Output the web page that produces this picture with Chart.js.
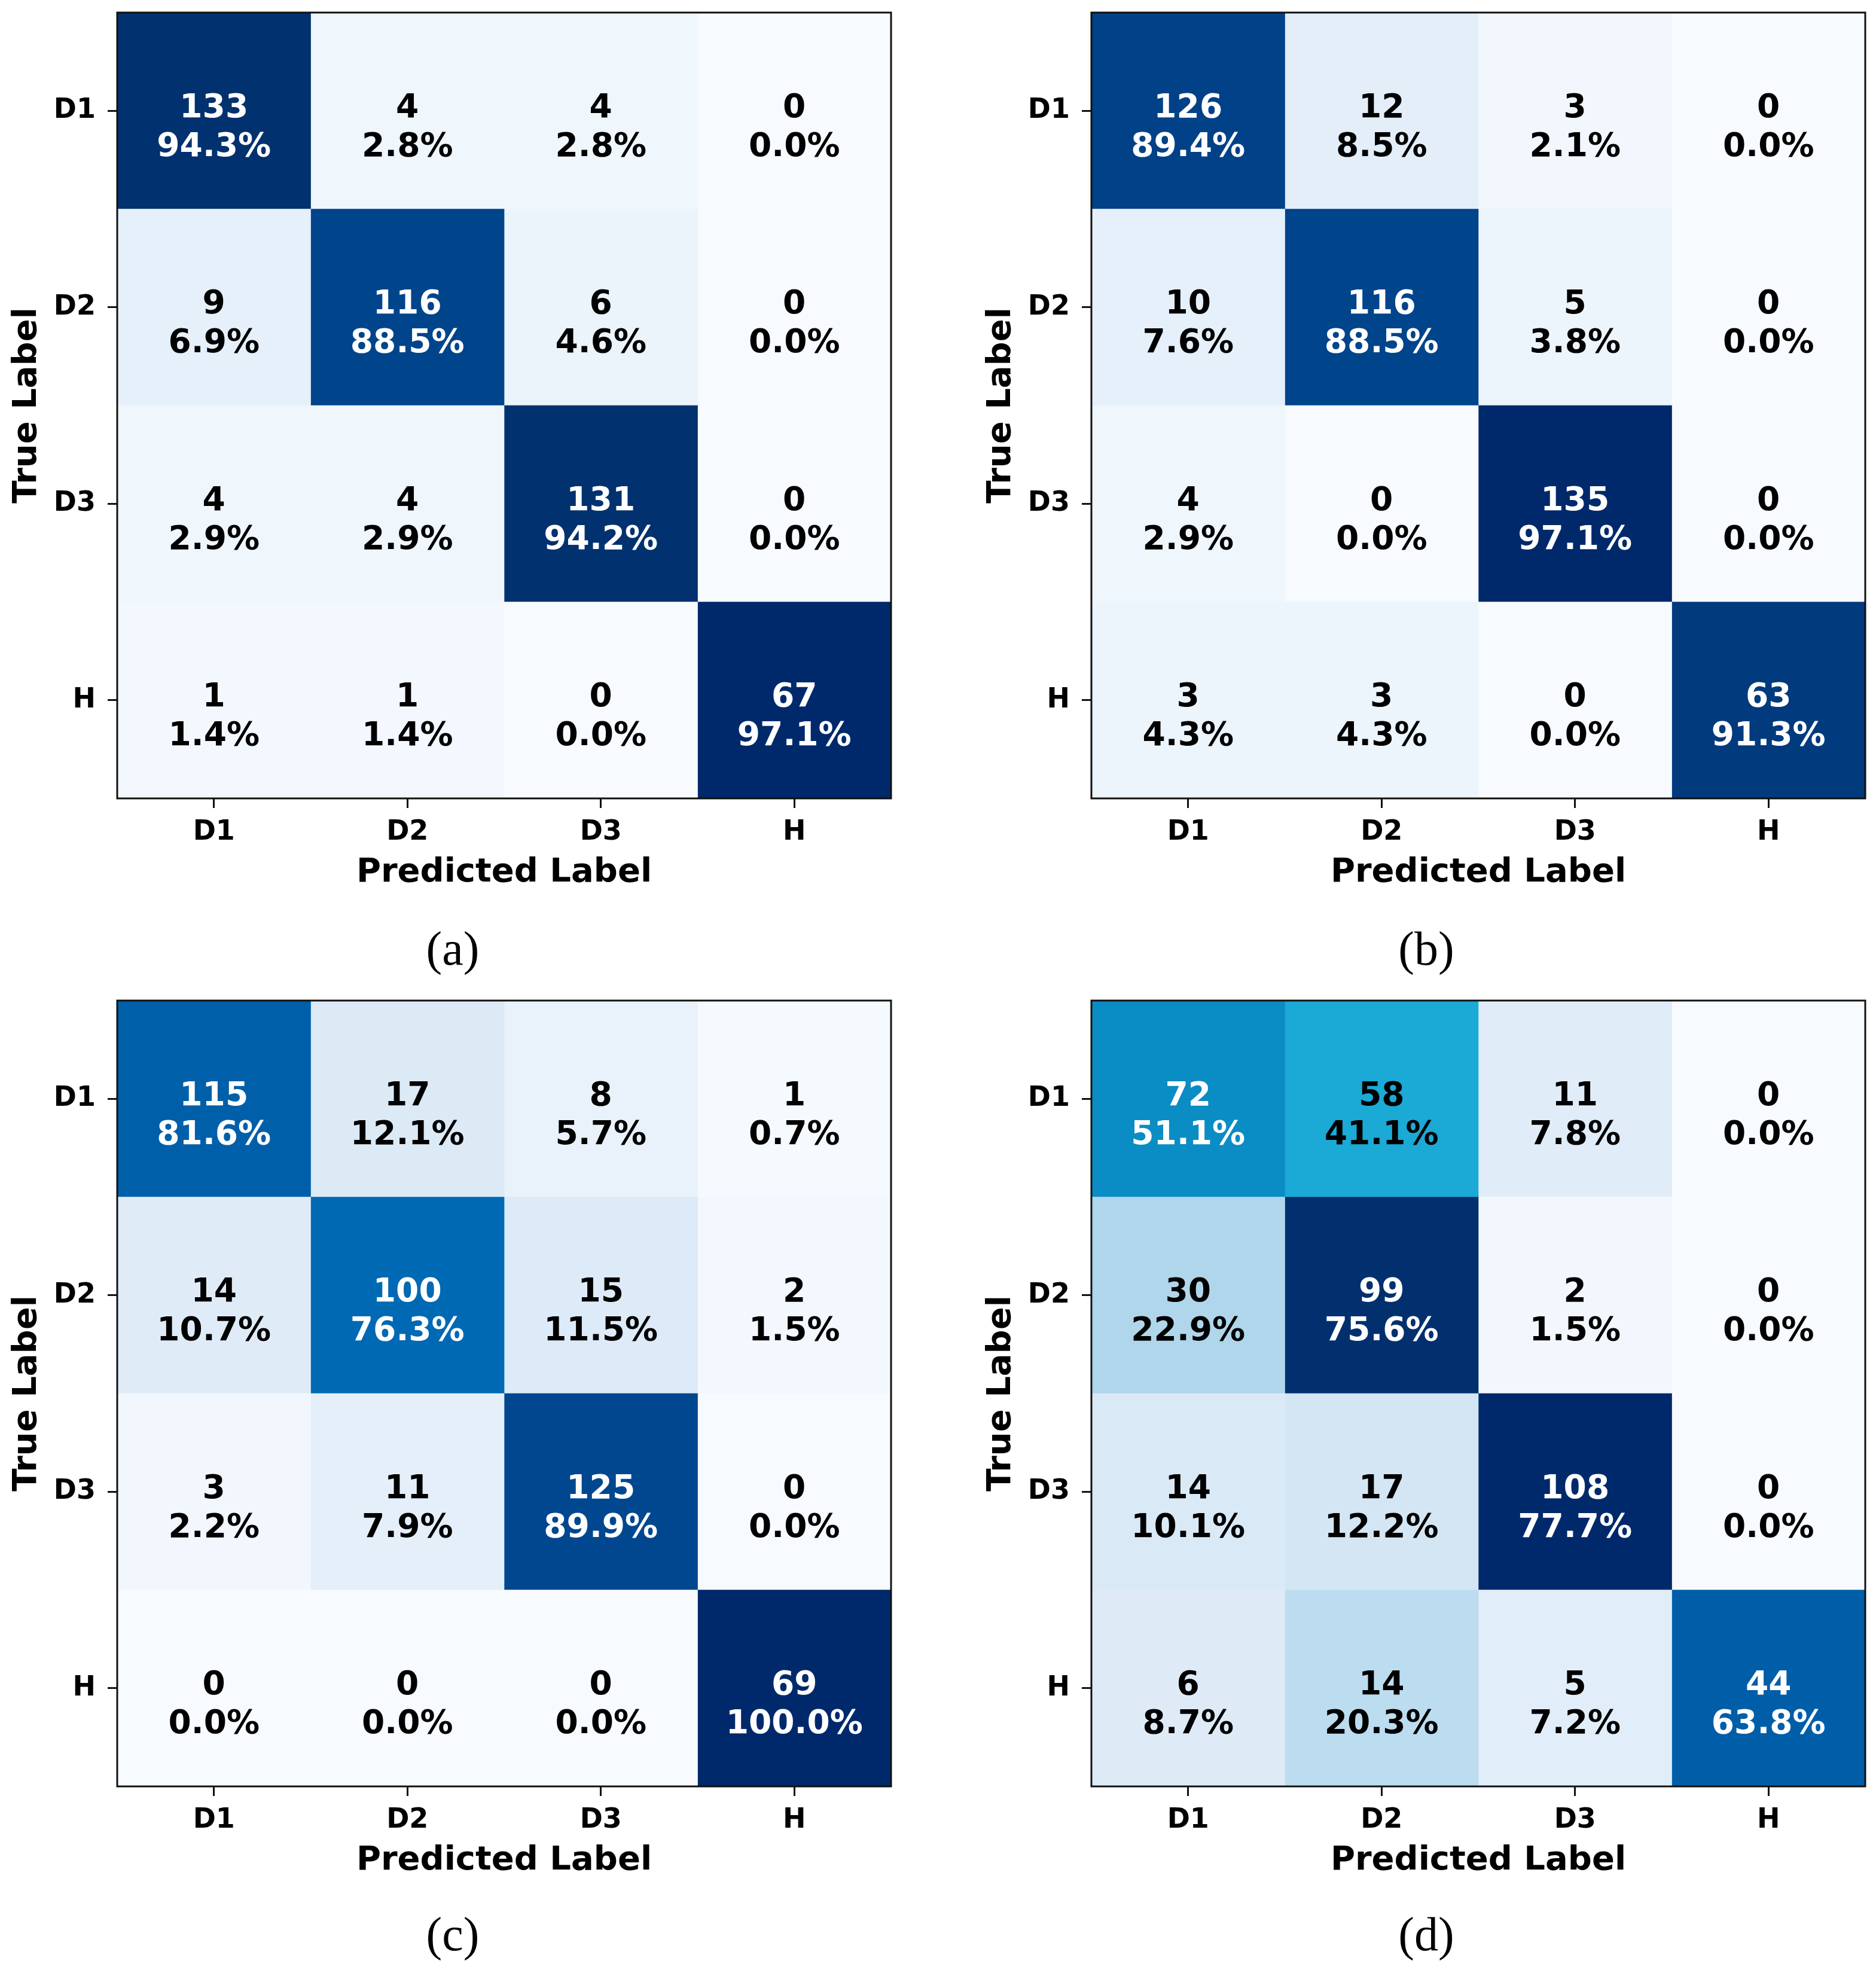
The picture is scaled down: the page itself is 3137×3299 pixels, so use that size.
<!DOCTYPE html>
<html>
<head>
<meta charset="utf-8">
<title>Confusion matrices</title>
<script src="https://cdn.jsdelivr.net/npm/chart.js@4.4.1/dist/chart.umd.min.js"></script>
<style>
  html, body { margin: 0; padding: 0; background: #fff; }
  body { width: 3137px; height: 3299px; position: relative; overflow: hidden; }
  canvas { position: absolute; }
  .cap {
    position: absolute;
    font-family: 'Liberation Serif', 'DejaVu Serif', serif;
    font-size: 80px;
    line-height: 1;
    color: #000;
    transform: translate(-50%, -50%);
  }
</style>
</head>
<body>
<canvas id="cmA" width="1504" height="1500" style="left:0px;top:0px"></canvas>
<canvas id="cmB" width="1504" height="1500" style="left:1629px;top:0px"></canvas>
<canvas id="cmC" width="1504" height="1500" style="left:0px;top:1652px"></canvas>
<canvas id="cmD" width="1504" height="1500" style="left:1629px;top:1652px"></canvas>
<div class="cap" style="left:757px;top:1586px">(a)</div>
<div class="cap" style="left:2385px;top:1586px">(b)</div>
<div class="cap" style="left:757px;top:3234px">(c)</div>
<div class="cap" style="left:2385px;top:3234px">(d)</div>

<script>
// rows = true label, columns = predicted label
const trueLabels = ['D1', 'D2', 'D3', 'H'];
const predLabels = ['D1', 'D2', 'D3', 'H'];

const countsA = [[133, 4, 4, 0], [9, 116, 6, 0], [4, 4, 131, 0], [1, 1, 0, 67]];
const pctA = [[94.3, 2.8, 2.8, 0.0], [6.9, 88.5, 4.6, 0.0], [2.9, 2.9, 94.2, 0.0], [1.4, 1.4, 0.0, 97.1]];

const countsB = [[126, 12, 3, 0], [10, 116, 5, 0], [4, 0, 135, 0], [3, 3, 0, 63]];
const pctB = [[89.4, 8.5, 2.1, 0.0], [7.6, 88.5, 3.8, 0.0], [2.9, 0.0, 97.1, 0.0], [4.3, 4.3, 0.0, 91.3]];

const countsC = [[115, 17, 8, 1], [14, 100, 15, 2], [3, 11, 125, 0], [0, 0, 0, 69]];
const pctC = [[81.6, 12.1, 5.7, 0.7], [10.7, 76.3, 11.5, 1.5], [2.2, 7.9, 89.9, 0.0], [0.0, 0.0, 0.0, 100.0]];

const countsD = [[72, 58, 11, 0], [30, 99, 2, 0], [14, 17, 108, 0], [6, 14, 5, 44]];
const pctD = [[51.1, 41.1, 7.8, 0.0], [22.9, 75.6, 1.5, 0.0], [10.1, 12.2, 77.7, 0.0], [8.7, 20.3, 7.2, 63.8]];

// Blues-like colour ramp
const RAMP = [
  [0.00, '#f7fbff'], [0.02, '#f1f7fd'], [0.09, '#e2eef9'], [0.125, '#dbe9f6'],
  [0.16, '#d3e6f4'], [0.26, '#bcdcf0'], [0.30, '#aed5ea'], [0.53, '#1aa9d6'],
  [0.66, '#0a8bc4'], [0.76, '#006ab4'], [0.82, '#005ea8'], [0.91, '#00448c'],
  [0.97, '#02316f'], [1.00, '#00296b']
];

function hexRgb(h) {
  return [parseInt(h.slice(1, 3), 16), parseInt(h.slice(3, 5), 16), parseInt(h.slice(5, 7), 16)];
}

function blues(t) {
  t = Math.max(0, Math.min(1, t));
  for (let k = 1; k < RAMP.length; k++) {
    if (t <= RAMP[k][0]) {
      const [t0, c0] = RAMP[k - 1];
      const [t1, c1] = RAMP[k];
      const f = (t - t0) / (t1 - t0);
      const a = hexRgb(c0), b = hexRgb(c1);
      const rgb = a.map((v, n) => Math.round(v + (b[n] - v) * f));
      return 'rgb(' + rgb.join(',') + ')';
    }
  }
  return RAMP[RAMP.length - 1][1];
}

Chart.defaults.font.family = "'DejaVu Sans', sans-serif";
Chart.defaults.color = '#000';

const TICK_FONT = { family: "'DejaVu Sans', sans-serif", size: 46, weight: 'bold' };
const TITLE_FONT = { family: "'DejaVu Sans', sans-serif", size: 56, weight: 'bold' };

// count + percentage written in every cell
function cellTextPlugin(counts, pct) {
  return {
    id: 'cellText',
    afterDatasetsDraw(chart) {
      const ctx = chart.ctx;
      ctx.save();
      ctx.textAlign = 'center';
      ctx.textBaseline = 'middle';
      ctx.font = "bold 55px 'DejaVu Sans', sans-serif";
      chart.data.datasets.forEach((ds, j) => {
        const meta = chart.getDatasetMeta(j);
        meta.data.forEach((bar, i) => {
          const cx = (bar.x + bar.base) / 2;
          const cy = bar.y;
          ctx.fillStyle = pct[i][j] > 50 ? '#fff' : '#000';
          ctx.fillText(String(counts[i][j]), cx, cy - 4);
          ctx.fillText(pct[i][j].toFixed(1) + '%', cx, cy + 61);
        });
      });
      ctx.restore();
    }
  };
}

const framePlugin = {
  id: 'frame',
  afterDraw(chart) {
    const { ctx, chartArea: a } = chart;
    ctx.save();
    ctx.strokeStyle = '#111';
    ctx.lineWidth = 3;
    ctx.strokeRect(a.left, a.top, a.right - a.left, a.bottom - a.top);
    ctx.restore();
  }
};

function axisGrid() {
  return {
    offset: false,
    drawOnChartArea: false,
    drawTicks: true,
    tickLength: 16,
    color: '#111',
    lineWidth: 3
  };
}

function renderMatrix(canvasId, counts, pct) {
  const canvas = document.getElementById(canvasId);
  if (!canvas) return;
  const vmax = Math.max(...pct.flat());

  // one dataset per predicted column, stacked left to right, one unit wide
  const datasets = predLabels.map((p, j) => ({
    label: p,
    data: trueLabels.map(() => 1),
    backgroundColor: trueLabels.map((t, i) => blues(pct[i][j] / vmax)),
    borderWidth: 0,
    barPercentage: 1,
    categoryPercentage: 1
  }));

  return new Chart(canvas, {
    type: 'bar',
    data: { labels: trueLabels, datasets },
    plugins: [cellTextPlugin(counts, pct), framePlugin],
    options: {
      indexAxis: 'y',
      responsive: false,
      animation: false,
      devicePixelRatio: 1,
      layout: { padding: { top: 21, right: 14, left: 0, bottom: 0 } },
      plugins: {
        legend: { display: false },
        tooltip: { enabled: false }
      },
      scales: {
        x: { type: 'linear', min: 0, max: 4, stacked: true, display: false },
        y: {
          type: 'category',
          stacked: true,
          offset: true,
          grid: axisGrid(),
          border: { display: false },
          ticks: { color: '#000', padding: 20, font: TICK_FONT },
          title: {
            display: true,
            text: 'True Label',
            color: '#000',
            padding: { top: 12, bottom: 0 },
            font: TITLE_FONT
          },
          afterFit(scale) {
            scale.width = 196;
            scale.paddingTop = 0;
            scale.paddingBottom = 0;
          }
        },
        xLab: {
          type: 'category',
          labels: predLabels,
          position: 'bottom',
          offset: true,
          grid: axisGrid(),
          border: { display: false },
          ticks: { color: '#000', padding: 13, font: TICK_FONT, maxRotation: 0 },
          title: {
            display: true,
            text: 'Predicted Label',
            color: '#000',
            padding: { top: 0, bottom: 7 },
            font: TITLE_FONT
          },
          afterFit(scale) {
            scale.height = 165;
            scale.paddingLeft = 0;
            scale.paddingRight = 0;
          }
        }
      }
    }
  });
}

renderMatrix('cmA', countsA, pctA);
renderMatrix('cmB', countsB, pctB);
renderMatrix('cmC', countsC, pctC);
renderMatrix('cmD', countsD, pctD);
</script>
</body>
</html>
